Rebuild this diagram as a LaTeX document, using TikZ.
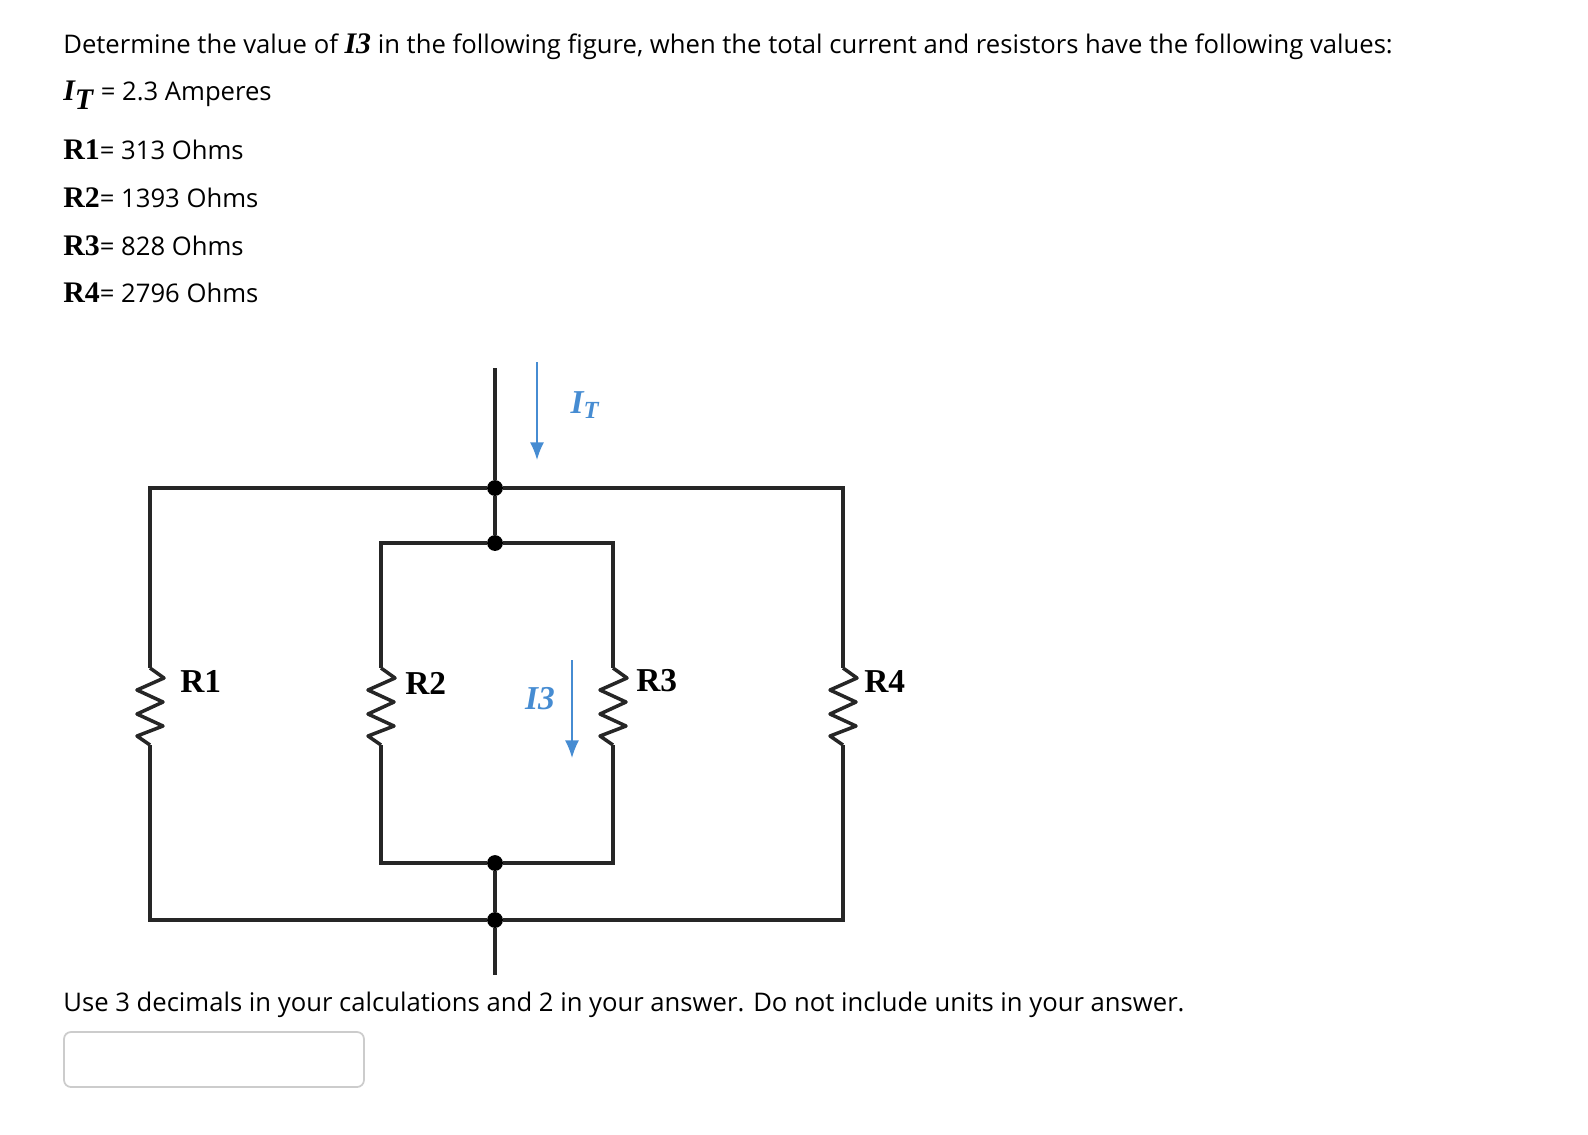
\documentclass[tikz,border=0pt]{standalone}
\usepackage{fontspec}
\setmainfont{Open Sans}
\newfontfamily\tnr{Liberation Serif}
\begin{document}
\begin{tikzpicture}[x=0.02cm,y=-0.02cm,
  wire/.style={line width=2.2pt,black!85},
  dot/.style={circle,fill=black,inner sep=0pt,minimum size=9pt},
  blue arr/.style={line width=1pt,color={rgb,255:red,70;green,140;blue,210},-{Latex[length=10pt,width=8pt]}},
  txt/.style={anchor=west,inner sep=0pt,font=\fontsize{14.6pt}{16pt}\selectfont},
  rlab/.style={anchor=west,inner sep=0pt,font=\tnr\bfseries\fontsize{19pt}{20pt}\selectfont}]
\usetikzlibrary{arrows.meta}
\useasboundingbox (0,0) rectangle (1588,1134);
\newcommand\bi[1]{{\tnr\bfseries\itshape\fontsize{17pt}{18pt}\selectfont #1}}
\newcommand\bb[1]{{\tnr\bfseries\fontsize{17pt}{18pt}\selectfont #1}}
\node[txt] (t1) at (63,47) {Determine the value of \bi{I3} in the following figure, when the total current and resistors have the following values:};
\node[txt] (t2) at (63,95) {\bi{I$_{\mbox{\tnr\bfseries\itshape\fontsize{17pt}{18pt}\selectfont T}}$} = 2.3 Amperes};
\node[txt] (t3) at (63,150) {\bb{R1}= 313 Ohms};
\node[txt] (t4) at (63,198) {\bb{R2}= 1393 Ohms};
\node[txt] (t5) at (63,246) {\bb{R3}= 828 Ohms};
\node[txt] (t6) at (63,293) {\bb{R4}= 2796 Ohms};
\node[txt] (t7) at (63,1005) {Use 3 decimals in your calculations and 2 in your answer. Do not include units in your answer.};
\draw[black!20,line width=1pt,rounded corners=4pt] (64,1032) rectangle (364,1087);
% circuit nodes
\coordinate (top) at (495,368);
\node[dot] (n1) at (495,488) {};
\node[dot] (n2) at (495,543) {};
\node[dot] (n3) at (495,863) {};
\node[dot] (n4) at (495,920) {};
\coordinate (bot) at (495,975);
\draw[wire] (top) -- (n1) -- (n2);
\draw[wire] (n3) -- (n4) -- (bot);
\draw[wire] (n1) -| (150,668);
\draw[wire] (n1) -| (843,668);
\draw[wire] (n4) -| (150,745);
\draw[wire] (n4) -| (843,745);
\draw[wire] (n2) -| (381,668);
\draw[wire] (n2) -| (613,668);
\draw[wire] (n3) -| (381,745);
\draw[wire] (n3) -| (613,745);
\foreach \x in {150,381,613,843}{
  \draw[line width=2pt,black!85,line join=round] (\x,668) -- (\x+14,678) -- (\x-13,690) -- (\x+13,702) -- (\x-13,714) -- (\x+13,726) -- (\x-13,736) -- (\x,745);
}
\node[rlab] (r1) at (180,681) {R1};
\node[rlab] (r2) at (405,683) {R2};
\node[rlab] (r3) at (636,681) {R3};
\node[rlab] (r4) at (864,681) {R4};
\coordinate (a1) at (537,362);
\coordinate (a2) at (537,460);
\draw[blue arr] (a1) -- (a2);
\coordinate (b1) at (572,660);
\coordinate (b2) at (572,758);
\draw[blue arr] (b1) -- (b2);
\node[inner sep=0pt,text={rgb,255:red,70;green,140;blue,210},font=\tnr\itshape\bfseries\fontsize{19pt}{20pt}\selectfont] (it) at (585,405) {I$_{\mbox{\tnr\fontsize{14pt}{15pt}\selectfont T}}$};
\node[inner sep=0pt,text={rgb,255:red,70;green,140;blue,210},font=\tnr\itshape\bfseries\fontsize{19pt}{20pt}\selectfont] (i3) at (540,699) {I3};
\end{tikzpicture}
\end{document}
